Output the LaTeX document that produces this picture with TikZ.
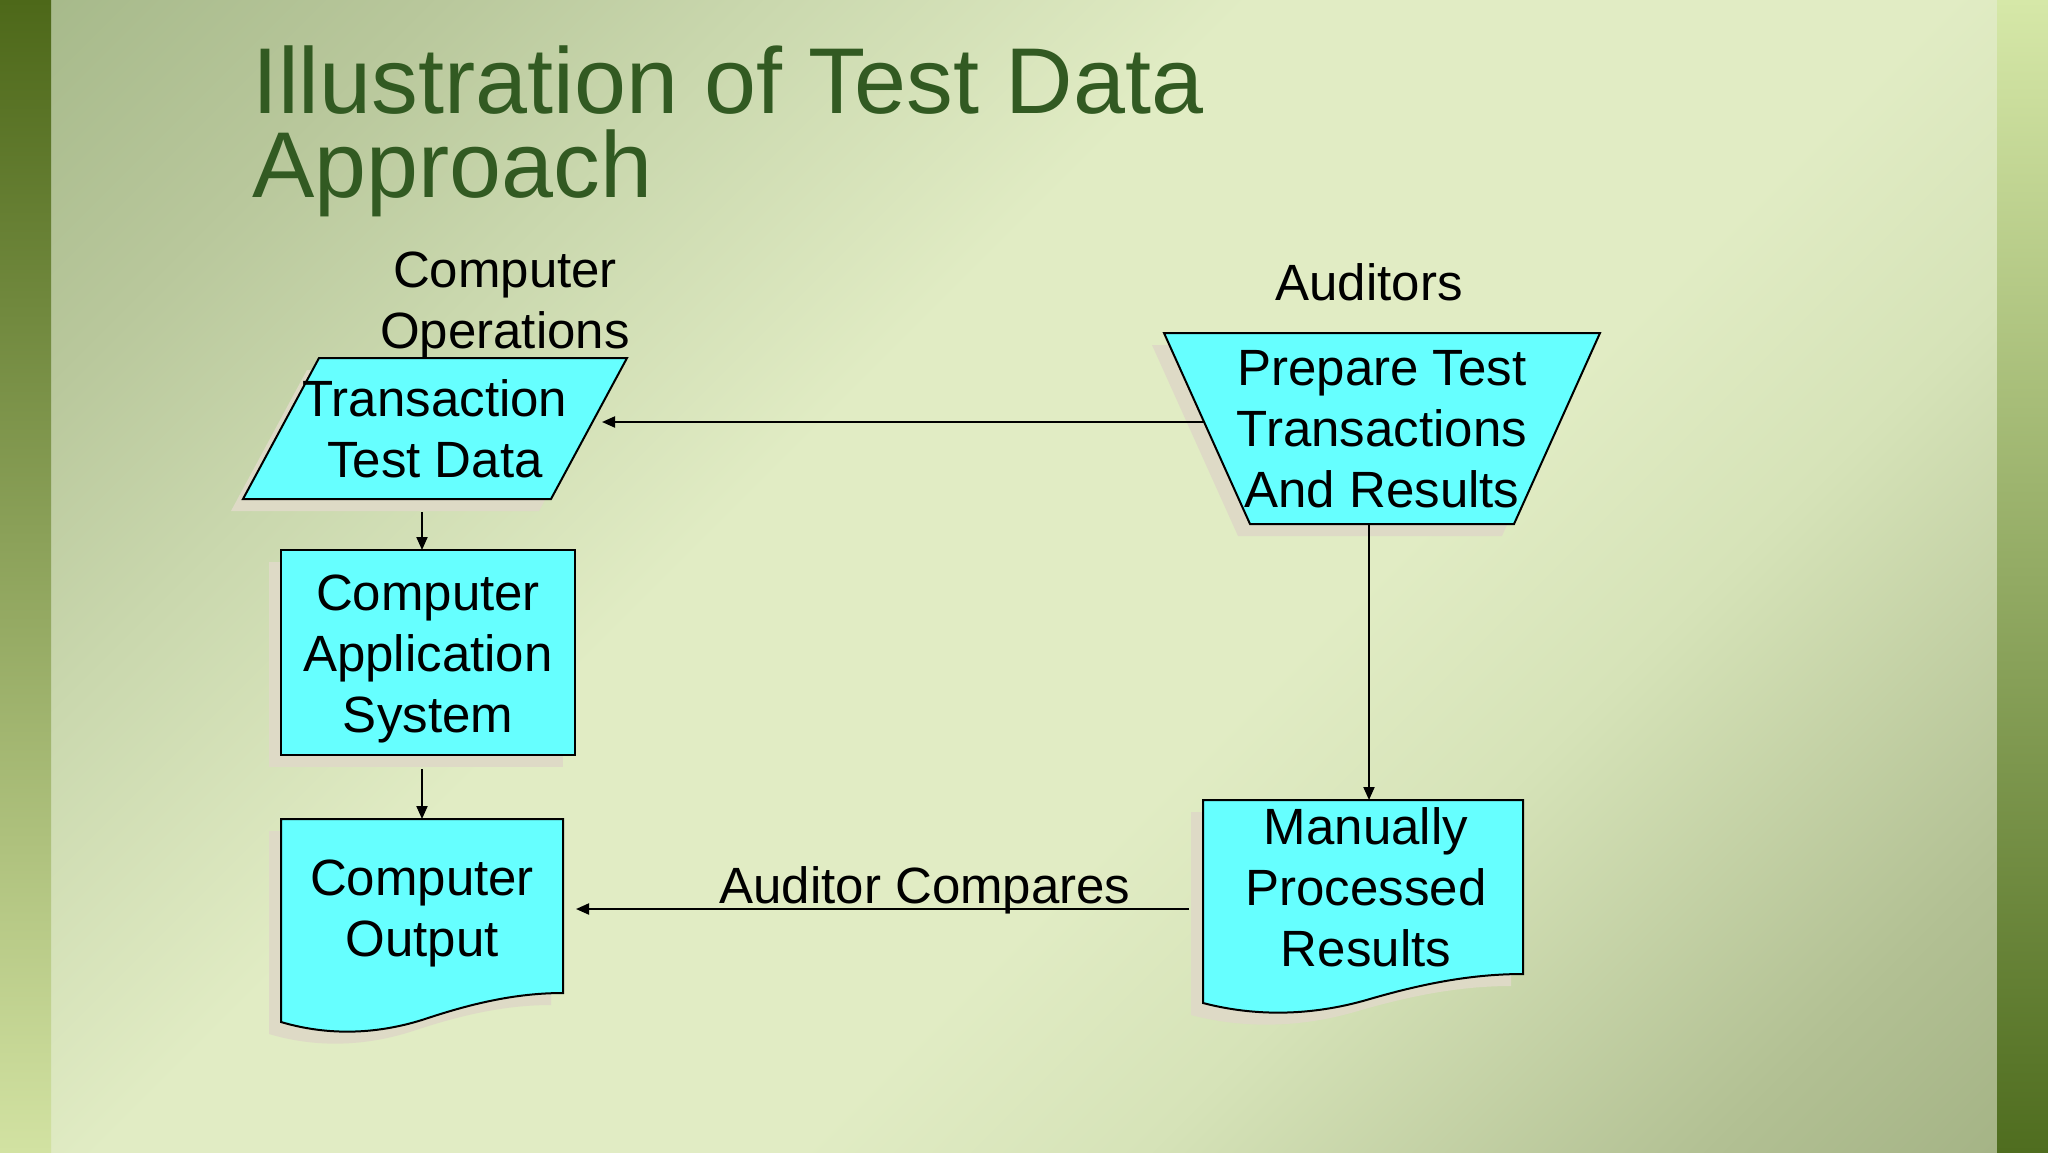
\documentclass[tikz,border=0pt]{standalone}
\usepackage{fontspec}
\setmainfont{Liberation Sans}
\usetikzlibrary{arrows.meta}
\definecolor{cyanfill}{HTML}{66FFFF}
\definecolor{shadowc}{HTML}{DEDAC6}
\definecolor{titlec}{HTML}{325A22}
\definecolor{bgA}{HTML}{A6B98A}
\definecolor{bgA2}{HTML}{B8C79B}
\definecolor{bgA3}{HTML}{CAD8AE}
\definecolor{bgB}{HTML}{E1ECC4}
\definecolor{bgC3}{HTML}{D6E3B8}
\definecolor{bgC2}{HTML}{B2C093}
\definecolor{bgC}{HTML}{A4B385}
\definecolor{lsTop}{HTML}{4D6819}
\definecolor{lsBot}{HTML}{D2E2A2}
\definecolor{rsTop}{HTML}{D6E8A8}
\definecolor{rsBot}{HTML}{4F6D1F}
\pgfdeclareverticalshading{bgshade}{100bp}{color(0bp)=(bgC); color(14bp)=(bgC); color(21bp)=(bgC2); color(34bp)=(bgC3); color(42bp)=(bgB); color(58bp)=(bgB); color(69bp)=(bgA3); color(77bp)=(bgA2); color(86bp)=(bgA); color(100bp)=(bgA)}
\begin{document}
\begin{tikzpicture}[x=1pt,y=-1pt,
  shp/.style={draw=black, line width=2pt, fill=cyanfill, line join=miter},
  shd/.style={fill=shadowc},
  lbl/.style={font=\fontsize{51}{61}\selectfont, align=center, inner sep=0pt, anchor=base},
  arr/.style={line width=2pt, -{Triangle[length=13pt,width=11pt]}},
  ttl/.style={font=\fontsize{93.5}{84}\selectfont, text=titlec, align=left, inner sep=0pt, anchor=base west},
]
\useasboundingbox (0,0) rectangle (2048,1152);
% background
\shade[shading=bgshade, shading angle=45] (51,0) rectangle (1997,1152);
\shade[top color=lsTop, bottom color=lsBot] (0,0) rectangle (51,1152);
\shade[top color=rsTop, bottom color=rsBot] (1997,0) rectangle (2048,1152);

% title
\node[ttl] (title) at (252,197) {Illustration of Test Data\\Approach};

% shadows
\begin{scope}[shift={(-12,12)}]
  \fill[shd] (319,358) -- (627,358) -- (551,499) -- (243,499) -- cycle;
  \fill[shd] (281,550) rectangle (575,755);
  \fill[shd] (281,819) -- (563,819) -- (563,993) .. controls (515,993) and (470,1004) .. (425,1019)
     .. controls (385,1032) and (335,1038) .. (281,1022) -- cycle;
  \fill[shd] (1164,333) -- (1600,333) -- (1514,524) -- (1250,524) -- cycle;
  \fill[shd] (1203,800) -- (1523,800) -- (1523,974) .. controls (1468.5,974) and (1417.5,985) .. (1366.4,1000)
     .. controls (1321,1013) and (1264.3,1019) .. (1203,1003) -- cycle;
\end{scope}

% shapes
\path[shp] (319,358) -- (627,358) -- (551,499) -- (243,499) -- cycle;
\path[shp] (281,550) rectangle (575,755);
\path[shp] (281,819) -- (563,819) -- (563,993) .. controls (515,993) and (470,1004) .. (425,1019)
   .. controls (385,1032) and (335,1038) .. (281,1022) -- cycle;
\path[shp] (1164,333) -- (1600,333) -- (1514,524) -- (1250,524) -- cycle;
\path[shp] (1203,800) -- (1523,800) -- (1523,974) .. controls (1468.5,974) and (1417.5,985) .. (1366.4,1000)
   .. controls (1321,1013) and (1264.3,1019) .. (1203,1003) -- cycle;

% texts
\node[lbl] (ops) at (505,348) {Computer\\Operations};
\node[lbl] (ttd) at (435,477) {Transaction\\Test Data};
\node[lbl] (cas) at (428,732) {Computer\\Application\\System};
\node[lbl] (cout) at (422,956) {Computer\\Output};
\node[lbl] (aud) at (1369,300) {Auditors};
\node[lbl] (prep) at (1382,507) {Prepare Test\\Transactions\\And Results};
\node[lbl] (mpr) at (1366,966) {Manually\\Processed\\Results};
\node[lbl] (cmp) at (925,903) {Auditor Compares};

% connector end points on shape borders
\coordinate (prep-w) at (1204,422);
\coordinate (prep-s) at (1369,524);
\coordinate (ttd-e) at (602,422);
\coordinate (ttd-s) at (422,512);
\coordinate (cas-n) at (422,550);
\coordinate (cas-s) at (422,769);
\coordinate (cout-n) at (422,819);
\coordinate (cout-e) at (576,909);
\coordinate (mpr-n) at (1369,800);
\coordinate (mpr-w) at (1189,909);

% connectors
\draw[arr] (prep-w) -- (ttd-e);
\draw[arr] (ttd-s) -- (cas-n);
\draw[arr] (cas-s) -- (cout-n);
\draw[arr] (prep-s) -- (mpr-n);
\draw[arr] (mpr-w) -- (cout-e);
\end{tikzpicture}
\end{document}
